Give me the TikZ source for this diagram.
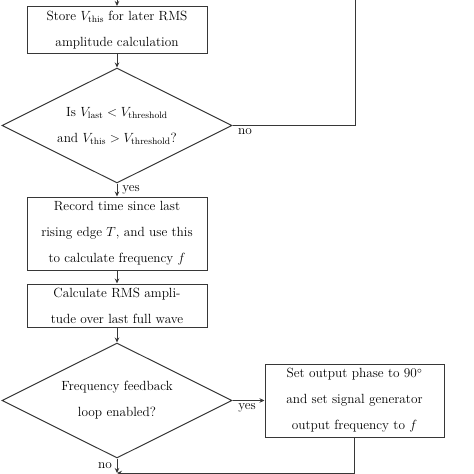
\documentclass[tikz,border=0pt]{standalone}
\usepackage{fix-cm}
\usetikzlibrary{shapes.geometric,arrows.meta}
\newcommand{\myfont}{\fontsize{13.3}{26}\selectfont}
\definecolor{ink}{RGB}{55,55,55}
\tikzset{
 box/.style={draw=ink, line width=1pt, minimum width=180pt, inner sep=0pt, align=center, font=\myfont, text=black},
 dia/.style={draw=ink, diamond, line width=1pt, minimum width=230pt, minimum height=115pt, inner sep=0pt},
 txt/.style={align=center, font=\myfont, inner sep=0pt, text=black},
 lbl/.style={font=\myfont, inner sep=0pt, text=black},
 arr/.style={draw=ink, line width=1pt, -{Stealth[length=5pt,width=4.5pt]}},
 ln/.style={draw=ink, line width=1pt}
}
\begin{document}
\begin{tikzpicture}[x=1pt,y=-1pt]
\useasboundingbox (0,0) rectangle (474,474);
\coordinate (t) at (117,0);
\coordinate (r) at (355,0);
\coordinate (m) at (117,473);
\node[box, minimum height=47pt] (b1) at (117,30) {Store $V_{\mathrm{this}}$ for later RMS\\amplitude calculation};
\node[dia] (d1) at (117,125.5) {};
\node[txt] (d1t) at (117,125.5) {Is $V_{\mathrm{last}} < V_{\mathrm{threshold}}$\\and $V_{\mathrm{this}} > V_{\mathrm{threshold}}$?};
\node[box, minimum height=73pt] (b2) at (117,233.5) {Record time since last\\rising edge $T$, and use this\\to calculate frequency $f$};
\node[box, minimum height=43pt] (b3) at (117,305.5) {Calculate RMS ampli-\\tude over last full wave};
\node[dia] (d2) at (117,400.5) {};
\node[txt] (d2t) at (117,400.5) {Frequency feedback\\loop enabled?};
\node[box, minimum width=179pt, minimum height=73pt] (b4) at (354.5,400.5) {Set output phase to 90$^\circ$\\and set signal generator\\output frequency to $f$};
\draw[arr] (t) -- (b1.north);
\draw[arr] (b1.south) -- (d1.north);
\draw[ln] (d1.east) -| (r);
\node[lbl] (no1) at (245,132) {no};
\draw[arr] (d1.south) -- (b2.north);
\node[lbl] (yes1) at (131,190) {yes};
\draw[arr] (b2.south) -- (b3.north);
\draw[arr] (b3.south) -- (d2.north);
\draw[arr] (d2.east) -- (b4.west);
\node[lbl] (yes2) at (247,408) {yes};
\draw[arr] (d2.south) -- (m);
\node[lbl] (no2) at (105,466) {no};
\draw[arr] (b4.south) |- (m);
\end{tikzpicture}
\end{document}
